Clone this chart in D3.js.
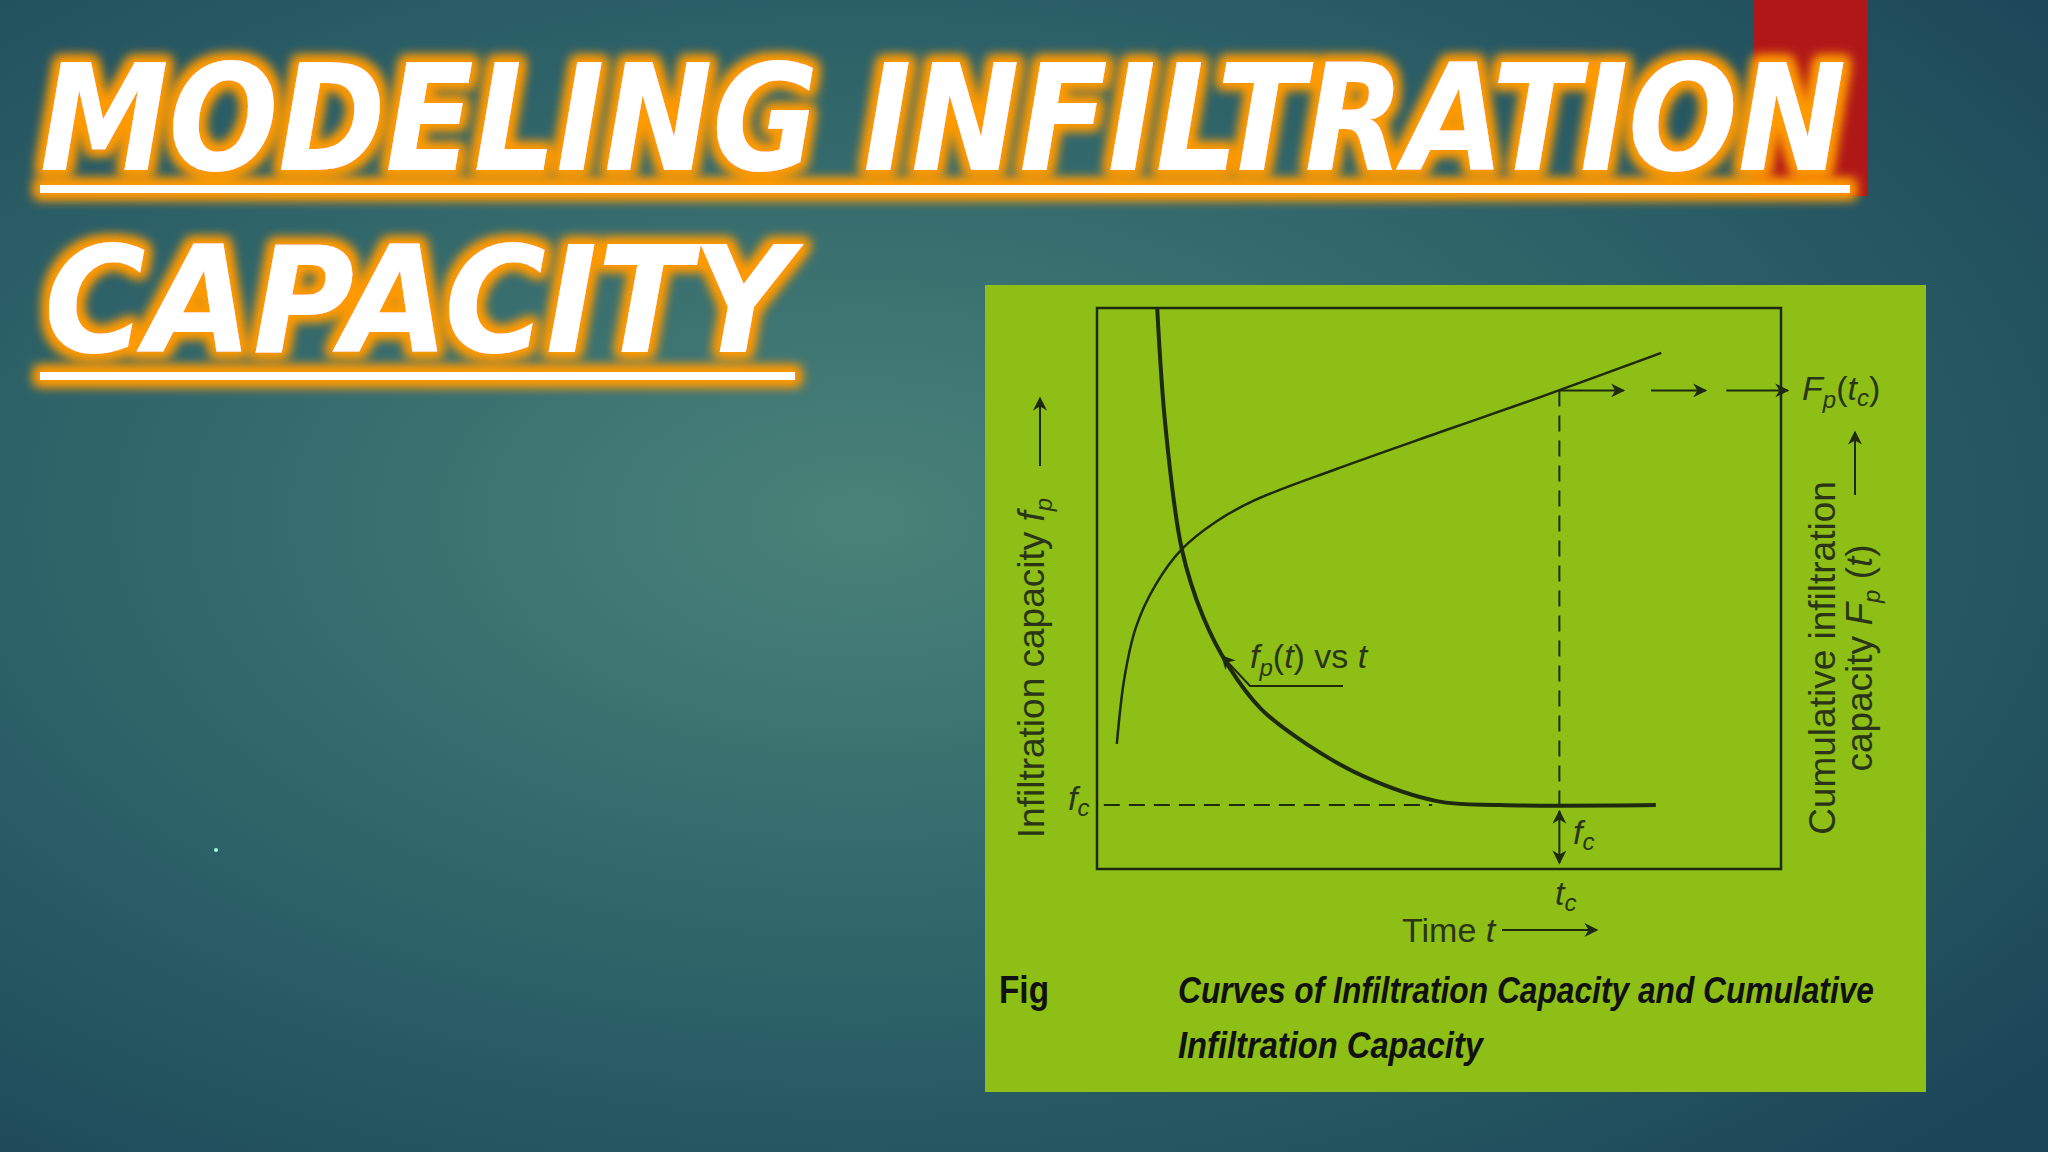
<!DOCTYPE html><html><head><meta charset="utf-8"><script src="https://cdn.jsdelivr.net/npm/d3@7"></script>
<style>body{margin:0;overflow:hidden}</style></head><body><svg id="s" width="2048" height="1152"></svg><script>
const titleLines=["MODELING INFILTRATION","CAPACITY"];
const decayT=[0.88,1.0,1.24,1.55,1.92,2.4,3.06,3.9,4.97,5.9,8.17];
const decayF=[10,7.9,5.7,4.5,3.62,2.85,2.23,1.65,1.21,1.14,1.14];
const cumT=[0.29,0.4,0.57,0.85,1.24,1.75,2.3,3.5,5.0,6.5,8.25];
const cumF=[2.23,3.4,4.31,5.05,5.7,6.2,6.57,7.13,7.78,8.42,9.2];
const tc=6.76, fc=1.14;
const svg=d3.select("#s");
const defs=svg.append("defs");
const rg=defs.append("radialGradient").attr("id","bg").attr("cx",0.42).attr("cy",0.45).attr("r",0.75);
rg.append("stop").attr("offset","0").attr("stop-color","#4a8279");
rg.append("stop").attr("offset","0.55").attr("stop-color","#2d6268");
rg.append("stop").attr("offset","1").attr("stop-color","#1c4658");
const gf=defs.append("filter").attr("id","glow").attr("x","-10%").attr("y","-30%").attr("width","120%").attr("height","160%");
gf.append("feMorphology").attr("in","SourceAlpha").attr("operator","dilate").attr("radius",5).attr("result","d");
gf.append("feGaussianBlur").attr("in","d").attr("stdDeviation",6).attr("result","b");
gf.append("feFlood").attr("flood-color","#ff9a00");
gf.append("feComposite").attr("in2","b").attr("operator","in").attr("result","g");
const fm=gf.append("feMerge");fm.append("feMergeNode").attr("in","g");fm.append("feMergeNode").attr("in","g");fm.append("feMergeNode").attr("in","SourceGraphic");
svg.append("rect").attr("width",2048).attr("height",1152).attr("fill","url(#bg)");
svg.append("rect").attr("x",1754).attr("y",0).attr("width",114).attr("height",196).attr("fill","#b01818");
const tg=svg.append("g").attr("filter","url(#glow)");
tg.append("text").attr("x",40).attr("y",170).attr("textLength",1806).attr("lengthAdjust","spacingAndGlyphs").text(titleLines[0]);
tg.append("text").attr("x",44).attr("y",352).attr("textLength",748).attr("lengthAdjust","spacingAndGlyphs").text(titleLines[1]);
tg.selectAll("text").attr("font-family","DejaVu Sans").attr("font-weight","bold").attr("font-style","italic").attr("font-size",148).attr("fill","#fff");
tg.append("rect").attr("x",40).attr("y",185).attr("width",1810).attr("height",8).attr("fill","#fff");
tg.append("rect").attr("x",40).attr("y",372).attr("width",755).attr("height",8).attr("fill","#fff");
svg.append("rect").attr("x",985).attr("y",285).attr("width",941).attr("height",807).attr("fill","#8dbf16");
const x=d3.scaleLinear().domain([0,10]).range([1097,1781]);
const y=d3.scaleLinear().domain([0,10]).range([869,308]);
const ink="#1e2a10";
svg.append("rect").attr("x",x(0)).attr("y",y(10)).attr("width",x(10)-x(0)).attr("height",y(0)-y(10)).attr("fill","none").attr("stroke",ink).attr("stroke-width",2.5);
defs.append("marker").attr("id","ar").attr("viewBox","0 0 10 10").attr("refX",9).attr("refY",5).attr("orient","auto-start-reverse").attr("markerUnits","userSpaceOnUse").attr("markerWidth",18).attr("markerHeight",14)
 .append("path").attr("d","M0,0L10,5L0,10L3,5Z").attr("fill",ink);
const line=d3.line().x(d=>x(d[0])).y(d=>y(d[1])).curve(d3.curveCatmullRom);
svg.append("path").attr("d",line(decayT.map((t,i)=>[t,decayF[i]]))).attr("fill","none").attr("stroke",ink).attr("stroke-width",4);
svg.append("path").attr("d",line(cumT.map((t,i)=>[t,cumF[i]]))).attr("fill","none").attr("stroke",ink).attr("stroke-width",2.5);
svg.append("line").attr("x1",x(0.1)).attr("x2",x(4.9)).attr("y1",y(fc)).attr("y2",y(fc)).attr("stroke",ink).attr("stroke-width",2).attr("stroke-dasharray","16,9");
const yAtTc=cumF[8]+(cumF[9]-cumF[8])*(tc-cumT[8])/(cumT[9]-cumT[8]);
svg.append("line").attr("x1",x(tc)).attr("x2",x(tc)).attr("y1",y(yAtTc)).attr("y2",y(fc)).attr("stroke",ink).attr("stroke-width",2).attr("stroke-dasharray","16,9");
svg.append("line").attr("x1",x(tc)).attr("x2",x(tc)).attr("y1",y(fc)+6).attr("y2",y(0)-6).attr("stroke",ink).attr("stroke-width",2).attr("marker-start","url(#ar)").attr("marker-end","url(#ar)");
[[tc,7.7],[8.1,8.9],[9.2,10.1]].forEach(s=>svg.append("line").attr("x1",x(s[0])).attr("x2",x(s[1])).attr("y1",y(yAtTc)).attr("y2",y(yAtTc)).attr("stroke",ink).attr("stroke-width",2).attr("marker-end","url(#ar)"));
const T=(px,py,t,o={})=>{const e=svg.append("text").attr("x",px).attr("y",py).attr("fill",o.fill||"#2a3516").attr("font-family",o.ff||"Liberation Sans").attr("font-size",o.fs||34).attr("text-anchor",o.a||"start");if(o.r)e.attr("transform",`rotate(${o.r},${px},${py})`);if(o.fw)e.attr("font-weight",o.fw);if(o.st)e.attr("font-style",o.st);if(o.tl)e.attr("textLength",o.tl).attr("lengthAdjust","spacingAndGlyphs");e.html(t);return e;};
T(1044,668,`Infiltration capacity <tspan font-style="italic">f</tspan><tspan font-style="italic" font-size="24" dy="8">p</tspan>`,{a:"middle",r:-90,fs:37});
svg.append("line").attr("x1",1040).attr("x2",1040).attr("y1",466).attr("y2",398).attr("stroke",ink).attr("stroke-width",2).attr("marker-end","url(#ar)");
T(1835,658,`Cumulative infiltration`,{a:"middle",r:-90,fs:37});
T(1872,658,`capacity <tspan font-style="italic">F</tspan><tspan font-style="italic" font-size="24" dy="8">p</tspan><tspan dy="-8"> (</tspan><tspan font-style="italic">t</tspan>)`,{a:"middle",r:-90,fs:37});
svg.append("line").attr("x1",1855).attr("x2",1855).attr("y1",495).attr("y2",432).attr("stroke",ink).attr("stroke-width",2).attr("marker-end","url(#ar)");
T(1802,400,`<tspan font-style="italic">F</tspan><tspan font-style="italic" font-size="24" dy="8">p</tspan><tspan dy="-8">(</tspan><tspan font-style="italic">t</tspan><tspan font-style="italic" font-size="24" dy="6">c</tspan><tspan dy="-6">)</tspan>`);
T(1068,810,`<tspan font-style="italic">f</tspan><tspan font-style="italic" font-size="24" dy="6">c</tspan>`);
T(1573,844,`<tspan font-style="italic">f</tspan><tspan font-style="italic" font-size="24" dy="6">c</tspan>`);
T(1555,905,`<tspan font-style="italic">t</tspan><tspan font-style="italic" font-size="24" dy="6">c</tspan>`);
T(1402,942,`Time <tspan font-style="italic">t</tspan>`);
svg.append("line").attr("x1",1502).attr("x2",1597).attr("y1",930).attr("y2",930).attr("stroke",ink).attr("stroke-width",2).attr("marker-end","url(#ar)");
T(1250,668,`<tspan font-style="italic">f</tspan><tspan font-style="italic" font-size="24" dy="8">p</tspan><tspan dy="-8">(</tspan><tspan font-style="italic">t</tspan>) vs <tspan font-style="italic">t</tspan>`);
svg.append("path").attr("d","M1343,686L1250,686L1222,656").attr("fill","none").attr("stroke",ink).attr("stroke-width",2).attr("marker-end","url(#ar)");
T(999,1003,"Fig",{fill:"#111",fw:"bold",fs:38,tl:50});
T(1178,1003,"Curves of Infiltration Capacity and Cumulative",{fill:"#111",fw:"bold",st:"italic",fs:36,tl:696});
T(1178,1058,"Infiltration Capacity",{fill:"#111",fw:"bold",st:"italic",fs:36,tl:305});
svg.append("circle").attr("cx",216).attr("cy",850).attr("r",2).attr("fill","#9fd");
</script></body></html>
